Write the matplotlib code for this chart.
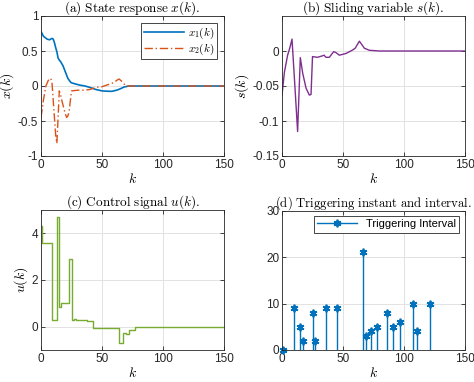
import numpy as np
import matplotlib
matplotlib.use('Agg')
import matplotlib.pyplot as plt
from matplotlib.lines import Line2D

plt.rcParams['font.family'] = ['Liberation Sans', 'DejaVu Sans']
plt.rcParams['mathtext.fontset'] = 'cm'
plt.rcParams['xtick.direction'] = 'in'
plt.rcParams['ytick.direction'] = 'in'
plt.rcParams['xtick.labelsize'] = 8.5
plt.rcParams['ytick.labelsize'] = 8.5
plt.rcParams['xtick.color'] = '#262626'
plt.rcParams['ytick.color'] = '#262626'

# (a) state response
x1_k = [0, 2, 5, 7, 9, 10, 11, 12, 13, 14, 15, 16, 17, 18, 20, 22, 24, 25, 28, 32,
        36, 40, 45, 50, 55, 58, 62, 65, 68, 72, 150]
x1 = [0.78, 0.71, 0.67, 0.66, 0.68, 0.67, 0.62, 0.55, 0.49, 0.40, 0.37, 0.35, 0.32,
      0.29, 0.20, 0.11, 0.06, 0.045, 0.03, 0.012, 0.0, -0.02, -0.05, -0.07, -0.075,
      -0.076, -0.06, -0.04, -0.015, 0.0, 0.0]
x2_k = [0, 2, 4, 6, 8, 9, 10, 11, 12, 13, 14, 15, 16, 17, 18, 19, 20, 21, 22, 23,
        24, 25, 30, 35, 40, 45, 50, 55, 60, 62, 64, 66, 68, 70, 72, 150]
x2 = [-0.45, -0.2, 0.0, 0.08, 0.11, 0.05, -0.2, -0.45, -0.7, -0.82, -0.45, -0.07,
      -0.12, -0.2, -0.27, -0.34, -0.4, -0.45, -0.43, -0.37, -0.22, -0.07, -0.06,
      -0.06, -0.05, -0.02, -0.01, 0.02, 0.05, 0.08, 0.1, 0.07, 0.03, 0.0, 0.0, 0.0]

# (b) sliding variable
s_k = [0, 2, 4.6, 6.5, 8.2, 10, 12.8, 15, 17, 19.7, 22.4, 23.8, 25, 29, 33, 34.5,
       36, 38.8, 42.3, 44, 47, 52.5, 58, 60, 63.4, 65.5, 67.5, 71.6, 80, 150]
s = [-0.063, -0.03, -0.006, 0.005, 0.017, -0.034, -0.115, -0.0095, -0.032, -0.053,
     -0.063, -0.062, -0.008, -0.009, -0.007, -0.006, -0.009, -0.009, -0.001, -0.002,
     -0.006, -0.0035, 0.0015, 0.004, 0.014, 0.009, 0.004, 0.001, 0.0, 0.0]

# (c) control signal (held values)
u_k = [0, 1, 9, 13, 15, 16, 23, 25, 27, 29, 33, 38, 43, 64, 67, 70, 72, 77, 90, 150]
u = [4.3, 3.6, 0.3, 4.7, 0.85, 1.0, 2.9, 0.3, 0.35, 0.3, 0.28, 0.25, -0.05, -0.7,
     -0.25, -0.3, -0.15, -0.03, 0.0, 0.0]

# (d) triggering instants and intervals
trig_k = [1, 10, 15, 17, 25, 27, 36, 45, 66, 69, 73, 78, 86, 91, 97, 107, 111, 121]
trig_int = [0, 9, 5, 2, 8, 2, 9, 9, 21, 3, 4, 5, 8, 5, 6, 10, 4, 10]

C_BLUE = '#0072BD'
C_ORANGE = '#D95319'
C_PURPLE = '#7E2F8E'
C_GREEN = '#77AC30'

fig = plt.figure(figsize=(4.74, 3.82), dpi=100)
W, H = 474.0, 382.0


def make_ax(l, t, r, b):
    return fig.add_axes([l / W, 1 - b / H, (r - l) / W, (b - t) / H])


ax_a = make_ax(41, 16, 224, 156)
ax_b = make_ax(282, 16, 465, 156)
ax_c = make_ax(41, 210, 224, 350)
ax_d = make_ax(282, 210.5, 465, 350)

for ax in (ax_a, ax_b, ax_c, ax_d):
    ax.grid(True, color='#e2e2e2', lw=0.7)
    ax.set_axisbelow(True)
    for sp in ax.spines.values():
        sp.set_color('#262626')
        sp.set_linewidth(0.6)
    ax.tick_params(top=True, right=True, length=3, width=0.6, pad=2)
    ax.set_xlim(0, 150)
    ax.set_xticks([0, 50, 100, 150])
    ax.set_xlabel('$k$', fontsize=10, labelpad=1)

tfs = 9.5
ax_a.plot(x1_k, x1, color=C_BLUE, lw=1.2, label='$x_1(k)$')
ax_a.plot(x2_k, x2, color=C_ORANGE, lw=1.0, ls=(0, (6, 2, 1, 2)), label='$x_2(k)$')
ax_a.set_ylim(-1, 1)
ax_a.set_yticks([-1, -0.5, 0, 0.5, 1])
ax_a.set_yticklabels(['-1', '-0.5', '0', '0.5', '1'])
ax_a.set_ylabel('$x(k)$', fontsize=10, labelpad=1)
ax_a.set_title(r'$\mathrm{(a)\ State\ response\ }x(k)\mathrm{.}$', fontsize=tfs, pad=3)
leg = ax_a.legend(loc='upper right', fontsize=8, handlelength=3.6, markerfirst=True,
                  fancybox=False, edgecolor='#262626', framealpha=1, borderpad=0.25,
                  labelspacing=0.05, handletextpad=0.4, borderaxespad=0.6)
leg.get_frame().set_linewidth(0.6)

ax_b.plot(s_k, s, color=C_PURPLE, lw=1.0)
ax_b.set_ylim(-0.15, 0.05)
ax_b.set_yticks([-0.15, -0.1, -0.05, 0])
ax_b.set_yticklabels(['-0.15', '-0.1', '-0.05', '0'])
ax_b.set_ylabel('$s(k)$', fontsize=10, labelpad=1)
ax_b.set_title(r'$\mathrm{(b)\ Sliding\ variable\ }s(k)\mathrm{.}$', fontsize=tfs, pad=3)

ax_c.step(u_k, u, where='post', color=C_GREEN, lw=1.0)
ax_c.set_ylim(-1, 5)
ax_c.set_yticks([0, 2, 4])
ax_c.set_ylabel('$u(k)$', fontsize=10, labelpad=1)
ax_c.set_title(r'$\mathrm{(c)\ Control\ signal\ }u(k)\mathrm{.}$', fontsize=tfs, pad=3)

ast = (6, 2, 0)
markers, stems, base = ax_d.stem(trig_k, trig_int, basefmt=' ')
stems.set_color(C_BLUE)
stems.set_linewidth(1.0)
markers.set_marker(ast)
markers.set_color(C_BLUE)
markers.set_markersize(5.5)
markers.set_markeredgewidth(1.3)
markers.set_clip_on(False)
ax_d.set_ylim(0, 30)
ax_d.set_yticks([0, 10, 20, 30])
ax_d.set_title(r'$\mathrm{(d)\ Triggering\ instant\ and\ interval.}$', fontsize=9.2, pad=3)
proxy = Line2D([], [], color=C_BLUE, lw=1.0, marker=ast, markersize=5.5,
               markeredgewidth=1.3)
leg2 = ax_d.legend([proxy], ['Triggering Interval'], loc='upper right', fontsize=8,
                   numpoints=1, handlelength=3.6, fancybox=False, edgecolor='#262626',
                   framealpha=1, borderpad=0.3, handletextpad=0.8, borderaxespad=0.5)
leg2.get_frame().set_linewidth(0.6)

fig.savefig('out.png', dpi=100)
